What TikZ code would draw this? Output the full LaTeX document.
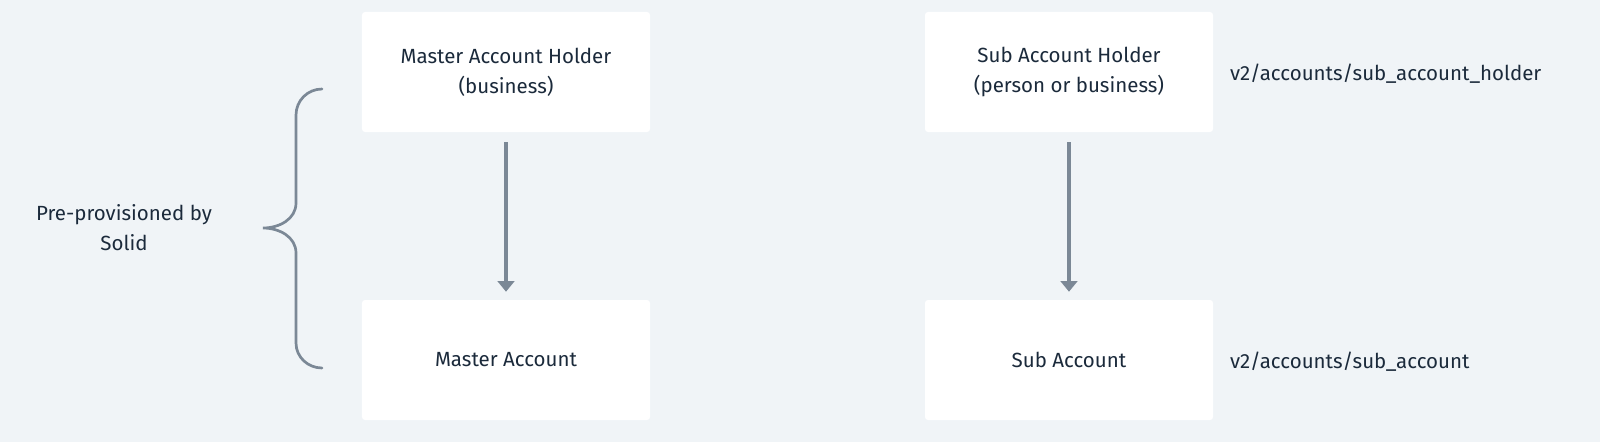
\documentclass[tikz,border=0pt]{standalone}
\usepackage{fontspec}
\setmainfont{Fira Sans}
\usepackage{xcolor}
\usetikzlibrary{calc,positioning,arrows.meta}
\definecolor{bgcol}{HTML}{F0F4F7}
\definecolor{inkcol}{HTML}{1B2A3B}
\definecolor{linecol}{HTML}{7B8896}
\tikzset{
	accbox/.style={fill=white, rounded corners=0.09cm, minimum width=8.64cm, minimum height=3.6cm, align=center, text=inkcol, font=\fontsize{17.5}{25.6}\selectfont},
	apilabel/.style={anchor=west, text=inkcol, font=\fontsize{17.5}{25.6}\selectfont},
	link/.style={-{Triangle[width=14pt,length=9pt]}, line width=3.8pt, draw=linecol, shorten <=0.3cm, shorten >=0.24cm},
}
\begin{document}
\begin{tikzpicture}[x=0.03cm,y=-0.03cm]
		\fill[bgcol] (0,0) rectangle (1600,442);
		\useasboundingbox (0,0) rectangle (1600,442);
		\node[accbox] at (506,72) (mah) {Master Account Holder\\(business)};
		\node[accbox] at (506,360) (ma) {Master Account};
		\node[accbox] at (1069,72) (sah) {Sub Account Holder\\(person or business)};
		\node[accbox] at (1069,360) (sa) {Sub Account};
		\node[apilabel] at (1226,74) (sahapi) {v2/accounts/sub\_account\_holder};
		\node[apilabel] at (1226,362) (saapi) {v2/accounts/sub\_account};
		\draw[link] (mah) -- (ma);
		\draw[link] (sah) -- (sa);
		\node[align=center, text=inkcol, font=\fontsize{17.5}{25.6}\selectfont] at (124,228) (pre) {Pre-provisioned by\\Solid};
		\draw[linecol, line width=2.3pt, line cap=round]
			(322,89) to[out=180,in=90] (296,115) -- (296,203) to[out=-90,in=0] (263,228)
			to[out=0,in=90] (296,253) -- (296,343) to[out=-90,in=180] (322,368);
		\end{tikzpicture}
\end{document}
